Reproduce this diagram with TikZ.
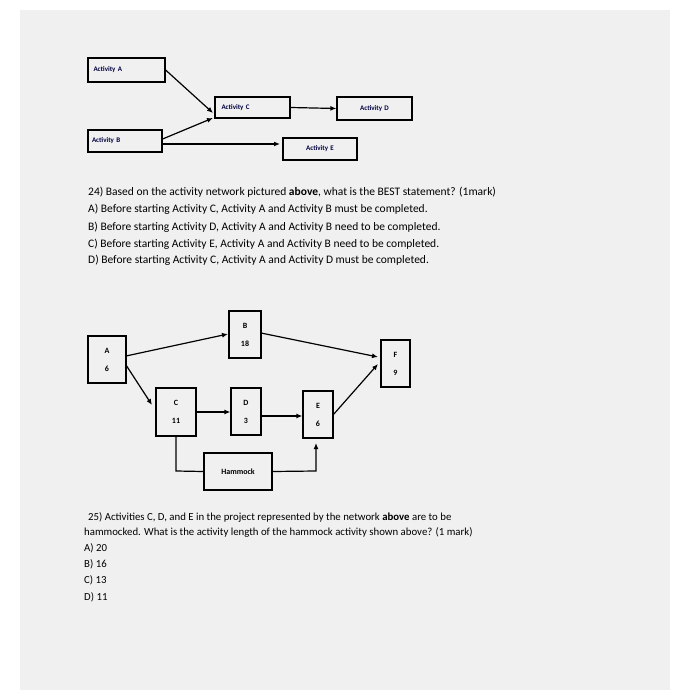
\documentclass[tikz,border=0pt]{standalone}
\usepackage{fontspec}
\setmainfont{Carlito}
\usetikzlibrary{arrows.meta}
\begin{document}
\begin{tikzpicture}[x=1pt,y=-1pt,
  box/.style={draw,line width=1.2pt,inner sep=0pt,font=\fontsize{7}{8}\selectfont\bfseries,text=black!75!blue},
  nbox/.style={draw,line width=1.2pt,inner sep=0pt,font=\fontsize{8}{10}\selectfont\bfseries,align=center},
  arr/.style={-{Latex[length=6pt,width=5pt]},line width=1.2pt},
  ln/.style={line width=1.2pt},
  q/.style={anchor=west,inner sep=0pt,font=\fontsize{11.5}{13}\selectfont},
  qs/.style={anchor=west,inner sep=0pt,font=\fontsize{10.8}{13}\selectfont}]
\fill[white] (0,0) rectangle (690,700);
\fill[black!6] (20,10) rectangle (670,690);
\useasboundingbox (0,0) rectangle (690,700);
% top diagram
\node[box,minimum width=77pt,minimum height=24pt,text width=66pt] (ta) at (126.5,70) {Activity A};
\node[box,minimum width=75pt,minimum height=21pt,text width=62pt] (tc) at (252.5,107.5) {Activity C};
\node[box,minimum width=75pt,minimum height=23pt,text width=62pt,align=center] (td) at (374.5,108.5) {Activity D};
\node[box,minimum width=74pt,minimum height=22pt,text width=66pt] (tb) at (125,141) {Activity B};
\node[box,minimum width=74pt,minimum height=22pt,text width=62pt,align=center] (te) at (320,149) {Activity E};
\coordinate (tm) at (213,113);
\draw[arr] (ta.east) -- (tm);
\draw[arr] (tb.east) ++(0,-2) -- (213,118);
\draw[arr] (tb.east) ++(0,3) -- (280,144);
\draw[arr] (tc.east) -- (td.west);
% question 24
\node[q] (q24) at (88,192) {24) Based on the activity network pictured \textbf{above}, what is the BEST statement? (1mark)};
\node[q] (q24a) at (88,209) {A) Before starting Activity C, Activity A and Activity B must be completed.};
\node[q] (q24b) at (88,227) {B) Before starting Activity D, Activity A and Activity B need to be completed.};
\node[q] (q24c) at (88,244) {C) Before starting Activity E, Activity A and Activity B need to be completed.};
\node[q] (q24d) at (88,260) {D) Before starting Activity C, Activity A and Activity D must be completed.};
% bottom diagram
\node[nbox,minimum width=38pt,minimum height=47pt] (A) at (107,359.5) {A\\[8pt]6};
\node[nbox,minimum width=32pt,minimum height=47pt] (B) at (245,334.5) {B\\[8pt]18};
\node[nbox,minimum width=29pt,minimum height=47pt] (F) at (395.5,363.5) {F\\[8pt]9};
\node[nbox,minimum width=40pt,minimum height=48pt] (C) at (176,412) {C\\[8pt]11};
\node[nbox,minimum width=30pt,minimum height=47pt] (D) at (246,411.5) {D\\[8pt]3};
\node[nbox,minimum width=30pt,minimum height=47pt] (E) at (318,414.5) {E\\[8pt]6};
\node[nbox,minimum width=68pt,minimum height=37pt] (H) at (238,471.5) {Hammock};
\draw[arr] (126,356) -- (228,334);
\draw[arr] (261,333) -- (378,357);
\draw[arr] (126,365) -- (152,405);
\draw[arr] (C.east) -- (D.west |- C.east);
\draw[arr] (261,416) -- (E.west |- 0,416);
\draw[arr] (333,415) -- (378,364);
\draw[ln] (C.south) -- (176,471) -- (H.west);
\draw[arr] (H.east) -- (316,471) -- (316,443);
% question 25
\node[qs] (q25) at (88,517) {25) Activities C, D, and E in the project represented by the network \textbf{above} are to be};
\node[qs] (q25c) at (84,532) {hammocked. What is the activity length of the hammock activity shown above? (1 mark)};
\node[qs] (a1) at (84,548) {A) 20};
\node[qs] (a2) at (84,564) {B) 16};
\node[qs] (a3) at (84,580) {C) 13};
\node[qs] (a4) at (84,597) {D) 11};
\end{tikzpicture}
\end{document}
